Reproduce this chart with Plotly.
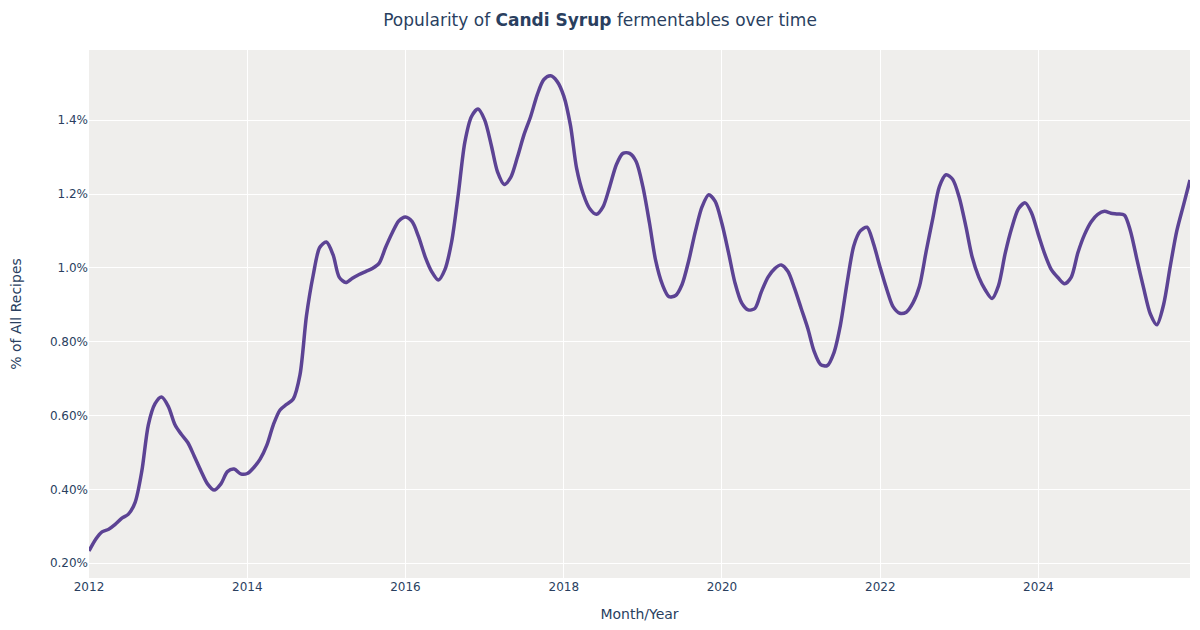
#!/usr/bin python3

# Imports
# ~~~~~~~~~~~~~~~~~~~~~~~~~~~~~~~~~~~~~~~~~~~~~~~~~~~~~~~~~~~~~~~~~~~~~~~~~~~~~~~~~~~~~~~~
# 3rd party:
from plotly import graph_objects as go
from pandas import date_range

# ~~~~~~~~~~~~~~~~~~~~~~~~~~~~~~~~~~~~~~~~~~~~~~~~~~~~~~~~~~~~~~~~~~~~~~~~~~~~~~~~~~~~~~~~

STYLE_NAME = "Candi Syrup"

# Monthly share of recipes (%), Jan 2012 -> Dec 2025
months = [d.strftime("%Y-%m-%d") for d in date_range("2012-01-01", "2025-12-01", freq="MS")]

share_2012 = [0.233, 0.265, 0.285, 0.292, 0.305, 0.322, 0.333, 0.365, 0.45, 0.575, 0.632, 0.65]
share_2013 = [0.625, 0.575, 0.55, 0.527, 0.49, 0.45, 0.415, 0.398, 0.415, 0.448, 0.455, 0.442]
share_2014 = [0.443, 0.46, 0.482, 0.52, 0.575, 0.615, 0.63, 0.645, 0.71, 0.87, 0.98, 1.055]
share_2015 = [1.07, 1.035, 0.975, 0.96, 0.972, 0.982, 0.99, 0.998, 1.012, 1.055, 1.095, 1.127]
share_2016 = [1.138, 1.125, 1.085, 1.03, 0.99, 0.967, 0.995, 1.07, 1.2, 1.34, 1.41, 1.43]
share_2017 = [1.40, 1.33, 1.26, 1.226, 1.245, 1.30, 1.36, 1.41, 1.47, 1.51, 1.52, 1.505]
share_2018 = [1.465, 1.385, 1.27, 1.2, 1.16, 1.145, 1.165, 1.22, 1.28, 1.31, 1.31, 1.288]
share_2019 = [1.22, 1.12, 1.02, 0.955, 0.922, 0.925, 0.955, 1.02, 1.1, 1.165, 1.198, 1.18]
share_2020 = [1.12, 1.04, 0.96, 0.905, 0.886, 0.89, 0.935, 0.975, 0.998, 1.008, 0.99, 0.945]
share_2021 = [0.89, 0.835, 0.775, 0.738, 0.735, 0.77, 0.845, 0.96, 1.06, 1.1, 1.11, 1.065]
share_2022 = [1.0, 0.94, 0.895, 0.877, 0.88, 0.905, 0.95, 1.045, 1.135, 1.22, 1.252, 1.24]
share_2023 = [1.19, 1.11, 1.03, 0.975, 0.94, 0.917, 0.952, 1.04, 1.11, 1.16, 1.176, 1.148]
share_2024 = [1.09, 1.035, 0.995, 0.973, 0.957, 0.975, 1.04, 1.09, 1.125, 1.145, 1.153, 1.148]
share_2025 = [1.146, 1.143, 1.1, 1.02, 0.945, 0.875, 0.846, 0.9, 1.005, 1.1, 1.17, 1.238]

share = (share_2012 + share_2013 + share_2014 + share_2015 + share_2016 + share_2017
         + share_2018 + share_2019 + share_2020 + share_2021 + share_2022 + share_2023
         + share_2024 + share_2025)

LINE_COLOUR = "#5c4394"
TEXT_COLOUR = "#2a3f5f"
FONT = '"DejaVu Sans", verdana, arial, sans-serif'

fig = go.Figure(
    go.Scatter(
        x=months,
        y=share,
        mode="lines",
        line={"color": LINE_COLOUR, "width": 3.5, "shape": "spline", "smoothing": 0.8},
        showlegend=False,
    )
)

# page body keeps its 8px margin, so the figure is shifted to line up
fig.update_layout(
    autosize=True,
    margin={"l": 81, "r": 2, "t": 42, "b": 44},
    paper_bgcolor="white",
    plot_bgcolor="#efeeec",
    font={"family": FONT, "color": TEXT_COLOUR, "size": 12},
    title={
        "text": f"Popularity of <b>{STYLE_NAME}</b> fermentables over time",
        "x": 0.5,
        "xanchor": "center",
        "y": 0.9805,
        "yanchor": "middle",
        "font": {"size": 17, "color": TEXT_COLOUR},
    },
    xaxis={
        "type": "date",
        "title": {"text": "Month/Year", "font": {"size": 14}, "standoff": 17},
        "showgrid": True,
        "gridcolor": "white",
        "gridwidth": 1,
        "zeroline": False,
        "dtick": "M24",
        "tickformat": "%Y",
        "ticks": "",
    },
    yaxis={
        "title": {"text": "% of All Recipes", "font": {"size": 14}, "standoff": 28},
        "range": [0.16, 1.59],
        "showgrid": True,
        "gridcolor": "white",
        "gridwidth": 1,
        "zeroline": False,
        "dtick": 0.2,
        "tick0": 0,
        "tickformat": ".2r",
        "ticksuffix": "%",
        "ticks": "",
    },
)

fig.write_html("out.html")
